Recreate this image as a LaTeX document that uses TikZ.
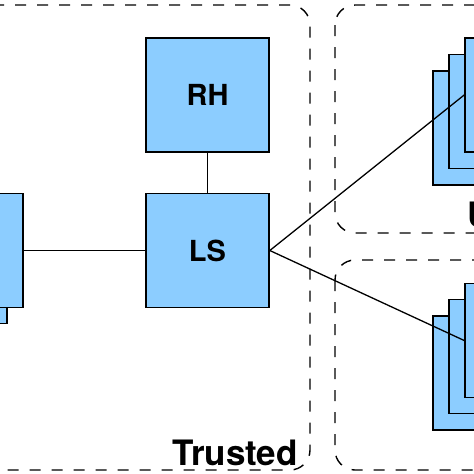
\documentclass[tikz,border=0pt]{standalone}
\usepackage{fontspec}
\setmainfont{TeX Gyre Heros}
\definecolor{hostblue}{RGB}{140,205,255}
\begin{document}
\begin{tikzpicture}[x=1pt,y=-1pt]
      \tikzstyle{every node}+=[inner sep=0pt]
      \tikzstyle{host}=[draw=black, line width=1.6pt, fill=hostblue, minimum width=123pt, minimum height=114pt, font=\fontsize{29}{29}\selectfont\bfseries]
      \tikzstyle{zone}=[draw=black, line width=1.4pt, dash pattern=on 11pt off 11pt, rounded corners=20pt]
      \tikzstyle{zonelabel}=[anchor=base east, font=\fontsize{35}{35}\selectfont\bfseries]
      \useasboundingbox (0,0) rectangle (474,474);
      \draw [zone] (-40,5) rectangle (310,470);
      \draw [zone] (335,5) rectangle (640,233);
      \draw [zone] (335,260) rectangle (640,470);
      \node [zonelabel] (trusted) at (298,465) {Trusted};
      \node [zonelabel, anchor=base west] (untrusted) at (467,227) {Untrusted};
      \node [host] (RH) at (207.5,95) {RH};
      \node [host] (LS) at (207.5,250.5) {LS};
      \node [host] (L1) at (-54.5,266.5) {};
      \node [host] (L0) at (-38.5,250.5) {};
      \node [host] (U2) at (494.5,128) {};
      \node [host] (U1) at (510.5,111.5) {};
      \node [host] (U0) at (526.5,95) {};
      \node [host] (D2) at (494.5,373) {};
      \node [host] (D1) at (510.5,356.5) {};
      \node [host] (D0) at (526.5,340.5) {};
      \draw [line width=1.3pt] (RH) -- (LS);
      \draw [line width=1.3pt] (LS) -- (L0);
      \draw [line width=1.3pt] (LS.east) -- (U0.west);
      \draw [line width=1.3pt] (LS.east) -- (D0.west);
    \end{tikzpicture}
\end{document}
